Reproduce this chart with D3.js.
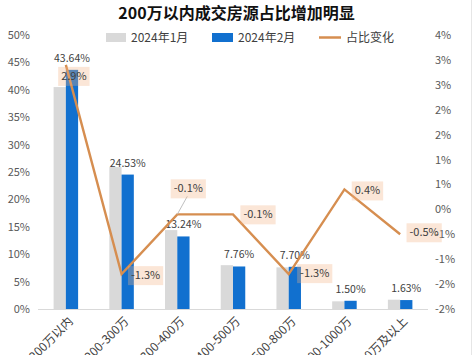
<!DOCTYPE html>
<html><head><meta charset="utf-8">
<script src="https://cdn.jsdelivr.net/npm/d3@7"></script>
<style>
html,body{margin:0;padding:0;background:#fff;}
svg{display:block;font-family:"Noto Sans CJK SC","Noto Sans",sans-serif;}
</style></head>
<body><svg id="c" width="474" height="355"></svg>
<script>
const categories = ["200万以内","200-300万","300-400万","400-500万","500-800万","800-1000万","1000万及以上"];
const jan = [40.5, 25.9, 14.4, 8.0, 7.6, 1.4, 1.7];
const feb = [43.64, 24.53, 13.24, 7.76, 7.70, 1.50, 1.63];
const change = [2.9, -1.3, -0.1, -0.1, -1.3, 0.4, -0.5];
const leftTicks = [0,5,10,15,20,25,30,35,40,45,50];
const rightTicks = [-2,-1.5,-1,-0.5,0,0.5,1,1.5,2,2.5,3,3.5];
const rightTickLabels = ["-2%","-2%","-1%","-1%","0%","1%","1%","2%","2%","3%","3%","4%"];
const seriesNames = ["2024年1月","2024年2月","占比变化"];
const title = "200万以内成交房源占比增加明显";

const svg = d3.select("#c");
const W = 474, H = 355;
const m = {l:38, r:428, t:35, b:309};
const gray = "#D9D9D9", blue = "#1170CF", orange = "#D68E50";

const x = d3.scaleBand().domain(categories).range([m.l, m.r]).paddingInner(0.56).paddingOuter(0.28);
const xs = d3.scaleBand().domain([0,1]).range([0, x.bandwidth()]);
const yL = d3.scaleLinear().domain([0,50]).range([m.b, m.t]);
const yR = d3.scaleLinear().domain([-2,3.5]).range([m.b, m.t]);

// border on right
svg.append("line").attr("x1",471.5).attr("x2",471.5).attr("y1",0).attr("y2",H).attr("stroke","#e6e6e6");

// title
svg.append("text").attr("x",236.5).attr("y",19).attr("text-anchor","middle")
  .attr("font-size",16).attr("font-weight","bold").attr("fill","#111").text(title);

// legend
const lg = svg.append("g").attr("font-size",12).attr("fill","#404040");
lg.append("rect").attr("x",106).attr("y",33).attr("width",20).attr("height",9).attr("fill",gray);
lg.append("text").attr("x",131).attr("y",42).text(seriesNames[0]);
lg.append("rect").attr("x",212).attr("y",33).attr("width",21).attr("height",9).attr("fill",blue);
lg.append("text").attr("x",238).attr("y",42).text(seriesNames[1]);
lg.append("line").attr("x1",319).attr("x2",341).attr("y1",37.5).attr("y2",37.5).attr("stroke",orange).attr("stroke-width",2.5);
lg.append("text").attr("x",346).attr("y",42).text(seriesNames[2]);

// left axis
const axL = svg.append("g").attr("transform",`translate(${m.l},0)`)
  .call(d3.axisLeft(yL).tickValues(leftTicks).tickSize(0).tickPadding(8).tickFormat(d=>d+"%"));
axL.select(".domain").remove();
axL.selectAll("text").attr("font-size",11).attr("fill","#595959").attr("font-family","'Noto Sans CJK SC','Noto Sans',sans-serif");

// baseline
svg.append("line").attr("x1",m.l).attr("x2",m.r).attr("y1",m.b+0.5).attr("y2",m.b+0.5).attr("stroke","#D9D9D9");

// bars
const bars = svg.append("g");
categories.forEach((c,i)=>{
  bars.append("rect").attr("x",x(c)+xs(0)).attr("width",xs.bandwidth()).attr("y",yL(jan[i])).attr("height",yL(0)-yL(jan[i])).attr("fill",gray);
  bars.append("rect").attr("x",x(c)+xs(1)).attr("width",xs.bandwidth()).attr("y",yL(feb[i])).attr("height",yL(0)-yL(feb[i])).attr("fill",blue);
});

// bar labels
const bl = svg.append("g").attr("font-size",10.5).attr("fill","#404040").attr("text-anchor","middle");
categories.forEach((c,i)=>{
  bl.append("text").attr("x",x(c)+xs(1)+xs.bandwidth()/2).attr("y",yL(feb[i])-8).text(feb[i].toFixed(2)+"%");
});

// line
const cx = c => x(c)+x.bandwidth()/2;
const line = d3.line().x((d,i)=>cx(categories[i])).y(d=>yR(d));
svg.append("path").datum(change).attr("d",line).attr("fill","none").attr("stroke",orange).attr("stroke-width",2.4).attr("stroke-linejoin","miter");

// right axis
const axR = svg.append("g").attr("transform",`translate(${m.r},0)`)
  .call(d3.axisRight(yR).tickValues(rightTicks).tickSize(0).tickPadding(7).tickFormat((d,i)=>rightTickLabels[i]));
axR.select(".domain").remove();
axR.selectAll("text").attr("font-size",11).attr("fill","#595959").attr("font-family","'Noto Sans CJK SC','Noto Sans',sans-serif");

// change labels (offsets relative to point)
const off = [[8,11],[24,1],[11,-26],[25,0],[26,-1],[23,1],[24,-2]];
// leader line for 3rd
svg.append("line").attr("x1",cx(categories[2])).attr("y1",yR(change[2])).attr("x2",cx(categories[2])+10).attr("y2",yR(change[2])-18).attr("stroke","#BFBFBF").attr("stroke-width",1);
const cl = svg.append("g").attr("font-size",11);
change.forEach((v,i)=>{
  const px = cx(categories[i])+off[i][0], py = yR(v)+off[i][1];
  const t = v.toFixed(1)+"%";
  const g = cl.append("g");
  const tx = g.append("text").attr("x",px).attr("y",py+4).attr("text-anchor","middle").attr("fill","#404040").text(t);
  const w = tx.node().getComputedTextLength();
  g.insert("rect","text").attr("x",px-w/2-3).attr("y",py-9).attr("width",w+6).attr("height",19).attr("fill","rgb(244,177,131)").attr("fill-opacity",0.32);
});

// category labels
const xl = svg.append("g").attr("font-size",12).attr("fill","#404040");
categories.forEach(c=>{
  xl.append("text").attr("transform",`translate(${cx(c)+5},${m.b+10}) rotate(-45)`).attr("text-anchor","end").attr("dy","0.35em").text(c);
});
</script></body></html>
